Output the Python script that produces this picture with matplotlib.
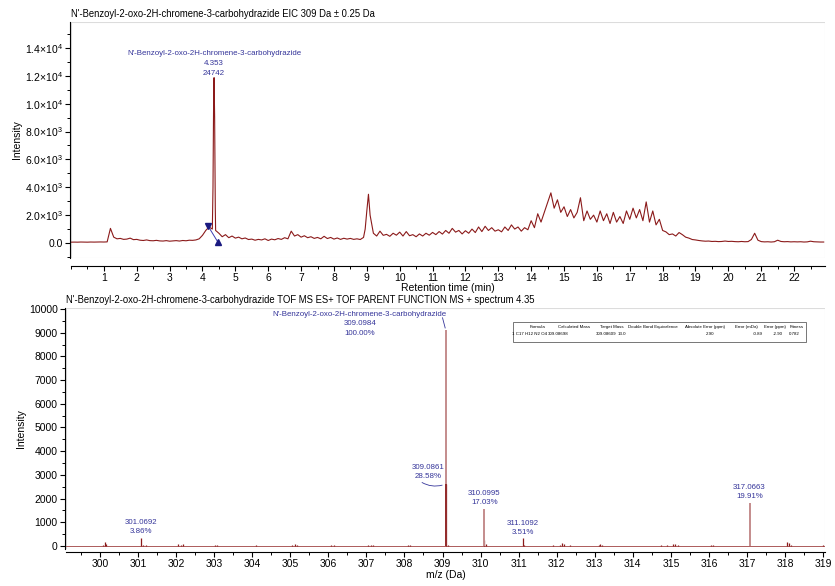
import numpy as np
import matplotlib
matplotlib.use("Agg")
import matplotlib.pyplot as plt
from matplotlib.patches import Rectangle
from matplotlib.ticker import MultipleLocator, FuncFormatter

plt.rcParams['font.family'] = ['Liberation Sans', 'DejaVu Sans']
plt.rcParams['mathtext.default'] = 'regular'

# ---- EIC chromatogram (0.1 min scans), one row per minute ----
eic_int = [
    60, 65, 60, 70, 65, 60, 70, 65, 70, 75,
    70, 80, 1050, 420, 300, 330, 260, 280, 350, 240,
    260, 200, 180, 220, 170, 160, 190, 150, 140, 170,
    130, 150, 170, 140, 180, 160, 200, 190, 220, 300,
    550, 900, 1150, 1000, 900, 700, 450, 600, 380, 500,
    350, 420, 300, 360, 250, 280, 200, 260, 220, 300,
    180, 280, 230, 320, 260, 380, 300, 850, 500, 600,
    420, 520, 380, 450, 330, 400, 300, 480, 320, 400,
    280, 360, 260, 340, 280, 330, 260, 300, 250, 400,
    2300, 2000, 700, 500, 850, 550, 620, 480, 700, 560,
    780, 500, 820, 520, 600, 450, 650, 500, 700, 560,
    760, 600, 820, 640, 900, 700, 1050, 780, 900, 650,
    880, 700, 1000, 750, 1150, 820, 1200, 900, 1100, 850,
    950, 800, 1150, 900, 1300, 1000, 1150, 850, 1100, 950,
    1600, 1100, 2100, 1500, 2200, 2900, 3600, 2500, 3100, 2200,
    2600, 1900, 2400, 1800, 2200, 3250, 1600, 2300, 1700, 2000,
    1500, 2300, 1600, 2100, 1400, 2200, 1500, 1900, 1400, 2300,
    1700, 2500, 1800, 2400, 1600, 2950, 1500, 2300, 1300, 1700,
    900, 800, 600, 650, 500, 750, 600, 420, 350, 250,
    220, 180, 150, 130, 140, 110, 120, 100, 110, 140,
    110, 120, 100, 90, 110, 90, 100, 250, 700, 200,
    100, 80, 90, 70, 90, 200, 110, 90, 100, 80,
    90, 80, 90, 70, 80, 130, 90, 80, 70, 70,
]
eic_time = np.round(np.arange(len(eic_int)) * 0.1, 2)

# extra scans around the two sharp peaks
peak_time = [4.32, 4.34, 4.353, 4.37, 4.39, 8.95, 9.05]
peak_int = [4000, 10500, 11870, 9000, 2500, 1000, 3500]

base_start = (4.17, 1220)
base_end = (4.47, 60)

# ---- mass spectrum at 4.35 min ----
ms_mz = [300.08, 300.13, 300.17, 301.0692, 301.12, 301.2, 302.05, 302.12, 302.18,
         303.02, 303.08, 304.1, 305.05, 305.12, 305.17, 306.08, 306.15, 307.05,
         307.12, 307.18, 308.1, 308.15, 309.0861, 309.15, 309.25, 310.1, 310.15,
         311.1092, 311.14, 311.9, 312.1, 312.15, 312.2, 312.35, 313.1, 313.15,
         313.2, 314.1, 314.3, 314.75, 314.9, 315.05, 315.1, 315.18, 316.05, 316.1,
         316.8, 318.05, 318.1, 318.15, 319.0]
ms_int = [60, 150, 90, 352, 60, 40, 90, 60, 70,
          50, 40, 30, 50, 90, 40, 40, 25, 30,
          50, 30, 40, 25, 2600, 30, 20, 250, 80,
          320, 60, 60, 60, 130, 70, 30, 40, 90,
          30, 20, 20, 30, 40, 100, 70, 50, 60, 30,
          20, 180, 120, 60, 60]

# centroided / identified peaks (lighter sticks)
cent_mz = [309.0984, 310.0995, 317.0663]
cent_int = [9114, 1552, 1815]

label_mz = [301.0692, 309.0861, 310.0995, 311.1092, 317.0663]
label_pct = ["3.86%", "28.58%", "17.03%", "3.51%", "19.91%"]
label_int = [352, 2600, 1552, 320, 1815]

compound = "N'-Benzoyl-2-oxo-2H-chromene-3-carbohydrazide"

table_head = ["Formula", "Calculated Mass", "Target Mass", "Double Bond Equivalence",
              "Absolute Error (ppm)", "Error (mDa)", "Error (ppm)", "Fitness"]
table_row = ["1 C17 H12 N2 O4", "309.08698", "309.08609", "13.0",
             "2.90", "-0.89", "-2.90", "0.782"]

trace_col = '#8b1a1a'
light_col = '#c48c8c'
label_col = '#35359a'
W, H = 835, 586

fig = plt.figure(figsize=(W / 100, H / 100), dpi=100)


def px_axes(l, t, r, b):
    return fig.add_axes([l / W, 1 - b / H, (r - l) / W, (b - t) / H])


def style(ax, bottom_out, left_out):
    for s in ['top', 'right']:
        ax.spines[s].set_visible(False)
    ax.spines['bottom'].set_position(('outward', bottom_out))
    ax.spines['left'].set_position(('outward', left_out))
    ax.add_patch(Rectangle((0, 0), 1, 1, transform=ax.transAxes, fill=False,
                           ec='#dcdcdc', lw=0.8, zorder=0))
    ax.tick_params(which='major', length=3.5, width=0.8, labelsize=7.5, pad=1.5)
    ax.tick_params(which='minor', length=2, width=0.7)
    ax.xaxis.set_minor_locator(MultipleLocator(0.5))


# ---- top: EIC ----
ax1 = px_axes(71, 22, 825, 258)
t_all = np.concatenate([eic_time, peak_time])
i_all = np.concatenate([eic_int, peak_int])
order = np.argsort(t_all)
ax1.plot(t_all[order], i_all[order], color=trace_col, lw=0.8)
ax1.plot([base_start[0], base_end[0]], [base_start[1], base_end[1]],
         color='#3a3ab0', lw=0.7)
ax1.plot(*base_start, marker='v', color='#1a1a80', ms=4)
ax1.plot(*base_end, marker='^', color='#1a1a80', ms=4)
ax1.set_xlim(0, 22.94)
ax1.set_ylim(-1077, 15866)
ax1.set_xticks(range(1, 23))
ax1.yaxis.set_major_locator(MultipleLocator(2000))
ax1.yaxis.set_minor_locator(MultipleLocator(1000))


def sci_fmt(v, pos):
    if v == 0:
        return '0.0'
    e = int(np.floor(np.log10(abs(v))))
    return r'$%.1f{\times}10^{%d}$' % (v / 10 ** e, e)


ax1.yaxis.set_major_formatter(FuncFormatter(sci_fmt))
style(ax1, 6, 1)
ax1.set_xlabel("Retention time (min)", fontsize=7.5, labelpad=0)
ax1.set_ylabel("Intensity", fontsize=7.5, labelpad=2)
ax1.text(0.0, 1.012, compound + " EIC 309 Da \u00b1 0.25 Da", transform=ax1.transAxes,
         fontsize=6.85, ha='left', va='bottom')
ax1.text(4.353, 11950, compound + "\n4.353\n24742", color=label_col, fontsize=5.7,
         ha='center', va='bottom', linespacing=1.55)

# ---- bottom: spectrum ----
ax2 = px_axes(66, 308, 825, 549)
ax2.axhline(0, color=trace_col, lw=0.5)
ax2.vlines(ms_mz, 0, ms_int, color=trace_col, lw=0.9)
ax2.vlines(cent_mz, 0, cent_int, color=light_col, lw=1.4)
ax2.vlines([309.0861], 0, [2600], color=trace_col, lw=1.2)
ax2.set_xlim(299.107, 319.05)
ax2.set_ylim(-127, 10042)
ax2.set_xticks(range(300, 320))
ax2.yaxis.set_major_locator(MultipleLocator(1000))
ax2.yaxis.set_minor_locator(MultipleLocator(500))
style(ax2, 2, 1)
ax2.set_xlabel("m/z (Da)", fontsize=7.5, labelpad=1)
ax2.set_ylabel("Intensity", fontsize=7.5, labelpad=2)
ax2.text(0.0, 1.012, compound + " TOF MS ES+ TOF PARENT FUNCTION MS + spectrum 4.35",
         transform=ax2.transAxes, fontsize=6.85, ha='left', va='bottom')

# main peak label, offset to the left with a short leader
ax2.text(306.83, 9930, compound + "\n309.0984\n100.00%", color=label_col, fontsize=5.7,
         ha='center', va='top', linespacing=1.55)
ax2.plot([309.0, 309.07], [9630, 9200], color=label_col, lw=0.6)

offsets = {309.0861: (308.63, 2800)}
for mz, pct, h in zip(label_mz, label_pct, label_int):
    lx, ly = offsets.get(mz, (mz, h + 120))
    ax2.text(lx, ly, "%.4f\n%s" % (mz, pct), color=label_col, fontsize=5.7,
             ha='center', va='bottom', linespacing=1.4)
ax2.annotate("", xy=(309.06, 2600), xytext=(308.4, 2740),
             arrowprops=dict(arrowstyle='-', color=label_col, lw=0.6,
                             connectionstyle='arc3,rad=0.25'))

# formula table
fig.patches.append(Rectangle((513 / W, 1 - 342 / H), 293 / W, 20 / H,
                             transform=fig.transFigure, fill=False, ec='#606060', lw=0.6))
head_x = [537, 574, 612, 653, 705, 746, 775, 797]
row_x = [530, 558, 606, 622, 710, 758, 778, 794]
for x, s in zip(head_x, table_head):
    fig.text(x / W, 1 - 327 / H, s, fontsize=3.2, ha='center', va='center')
for x, s in zip(row_x, table_row):
    fig.text(x / W, 1 - 334 / H, s, fontsize=3.2, ha='center', va='center')

fig.savefig("out.png", dpi=100)
